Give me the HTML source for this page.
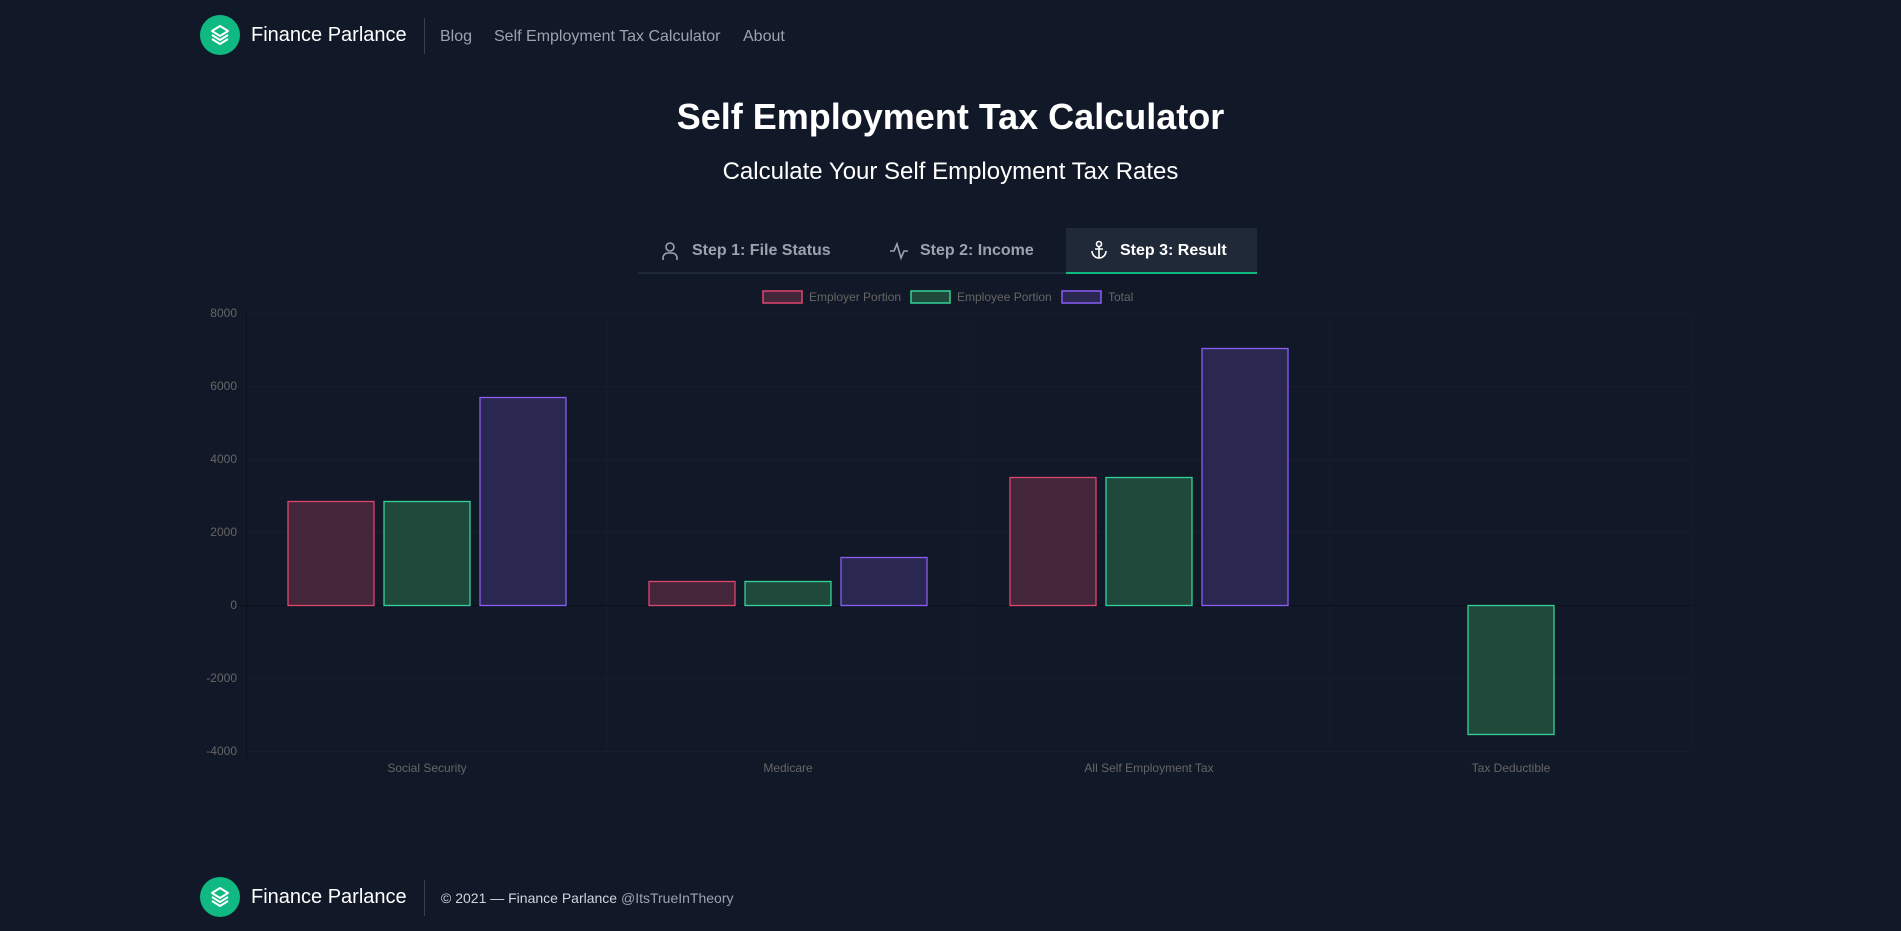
<!DOCTYPE html>
<html><head><meta charset="utf-8"><style>
html,body{margin:0;padding:0;background:#111827;width:1901px;height:931px;overflow:hidden;font-family:"Liberation Sans",sans-serif}
.a{position:absolute;white-space:nowrap}
.logo{position:absolute;width:40px;height:40px;border-radius:50%;background:#10b981}
.brand{color:#fff;font-size:20px}
.nav{color:#9ca3af;font-size:16px}
.tab{color:#9ca3af;font-size:16px;font-weight:bold}
</style></head><body>
<div class="logo" style="left:200px;top:15px"><svg width="40" height="40" viewBox="0 0 40 40" fill="none" stroke="#fff" stroke-width="2" stroke-linejoin="round"><path d="M20 11l-8 5 8 5 8-5z"/><path d="M12 20l8 5 8-5"/><path d="M12 24l8 5 8-5"/></svg></div>
<div class="a brand" style="left:251px;top:24px">Finance Parlance</div>
<div class="a" style="left:424px;top:18px;width:1px;height:36px;background:#374151"></div>
<div class="a nav" style="left:440px;top:28px">Blog</div>
<div class="a nav" style="left:494px;top:28px">Self Employment Tax Calculator</div>
<div class="a nav" style="left:743px;top:28px">About</div>

<div class="a" style="left:0;width:1901px;text-align:center;top:96px;color:#fff;font-size:36px;font-weight:bold">Self Employment Tax Calculator</div>
<div class="a" style="left:0;width:1901px;text-align:center;top:158px;color:#fff;font-size:24px">Calculate Your Self Employment Tax Rates</div>

<div class="a" style="left:638px;top:272px;width:619px;height:2px;background:#1f2937"></div>
<div class="a" style="left:1066px;top:228px;width:191px;height:44px;background:#1f2937;border-bottom:2px solid #10b981"></div>
<svg class="a" style="left:660px;top:240px" width="20" height="22" viewBox="0 0 20 22" fill="none" stroke="#9ca3af" stroke-width="1.6"><circle cx="10" cy="7" r="4"/><path d="M3 20v-2a5 5 0 0 1 5-5h4a5 5 0 0 1 5 5v2"/></svg>
<div class="a tab" style="left:692px;top:242px">Step 1: File Status</div>
<svg class="a" style="left:888px;top:240px" width="22" height="22" viewBox="0 0 22 22" fill="none" stroke="#9ca3af" stroke-width="1.6"><path d="M2 11h4l3-7 4 14 3-7h4"/></svg>
<div class="a tab" style="left:920px;top:242px">Step 2: Income</div>
<svg class="a" style="left:1088px;top:239px" width="22" height="22" viewBox="0 0 22 22" fill="none" stroke="#fff" stroke-width="1.6"><circle cx="11" cy="5" r="2.5"/><path d="M11 7.5V19M4 12a7 7 0 0 0 14 0M7 10h8"/></svg>
<div class="a tab" style="left:1120px;top:242px;color:#fff">Step 3: Result</div>

<svg class="a" style="left:0;top:0" width="1901" height="931" font-family="Liberation Sans,sans-serif" font-size="12" fill="#666">
<rect x="763" y="291" width="39" height="12" fill="#43263a" stroke="#e0456e" stroke-width="1.5"/>
<text x="809" y="301">Employer Portion</text>
<rect x="911" y="291" width="39" height="12" fill="#1f4a3b" stroke="#34d399" stroke-width="1.5"/>
<text x="957" y="301">Employee Portion</text>
<rect x="1062" y="291" width="39" height="12" fill="#2a2850" stroke="#8b5cf6" stroke-width="1.5"/>
<text x="1108" y="301">Total</text>
<g stroke="#161d2b" stroke-width="1">
<line x1="246" y1="313.5" x2="1691" y2="313.5"/><line x1="246" y1="386.5" x2="1691" y2="386.5"/><line x1="246" y1="459.5" x2="1691" y2="459.5"/><line x1="246" y1="532.5" x2="1691" y2="532.5"/><line x1="246" y1="678.5" x2="1691" y2="678.5"/><line x1="246" y1="751.5" x2="1691" y2="751.5"/>
<line x1="607" y1="313" x2="607" y2="752"/><line x1="968" y1="313" x2="968" y2="752"/><line x1="1330" y1="313" x2="1330" y2="752"/><line x1="1691" y1="313" x2="1691" y2="752"/>
</g>
<line x1="246.5" y1="313" x2="246.5" y2="758" stroke="#0b0f18"/>
<line x1="240" y1="605.5" x2="1691" y2="605.5" stroke="#0b0f18"/>
<g text-anchor="end"><text x="237" y="317">8000</text><text x="237" y="390">6000</text><text x="237" y="463">4000</text><text x="237" y="536">2000</text><text x="237" y="609">0</text><text x="237" y="682">-2000</text><text x="237" y="755">-4000</text></g>
<g text-anchor="middle"><text x="427" y="772">Social Security</text><text x="788" y="772">Medicare</text><text x="1149" y="772">All Self Employment Tax</text><text x="1511" y="772">Tax Deductible</text></g>
<g stroke-width="1.3">
<rect x="288" y="501.5" width="86" height="104" fill="#43263a" stroke="#e0456e"/>
<rect x="384" y="501.5" width="86" height="104" fill="#1f4a3b" stroke="#34d399"/>
<rect x="480" y="397.5" width="86" height="208" fill="#2a2850" stroke="#8b5cf6"/>
<rect x="649" y="581.5" width="86" height="24" fill="#43263a" stroke="#e0456e"/>
<rect x="745" y="581.5" width="86" height="24" fill="#1f4a3b" stroke="#34d399"/>
<rect x="841" y="557.5" width="86" height="48" fill="#2a2850" stroke="#8b5cf6"/>
<rect x="1010" y="477.5" width="86" height="128" fill="#43263a" stroke="#e0456e"/>
<rect x="1106" y="477.5" width="86" height="128" fill="#1f4a3b" stroke="#34d399"/>
<rect x="1202" y="348.5" width="86" height="257" fill="#2a2850" stroke="#8b5cf6"/>
<rect x="1468" y="605.5" width="86" height="129" fill="#1f4a3b" stroke="#34d399"/>
</g>
</svg>

<div class="logo" style="left:200px;top:877px"><svg width="40" height="40" viewBox="0 0 40 40" fill="none" stroke="#fff" stroke-width="2" stroke-linejoin="round"><path d="M20 11l-8 5 8 5 8-5z"/><path d="M12 20l8 5 8-5"/><path d="M12 24l8 5 8-5"/></svg></div>
<div class="a brand" style="left:251px;top:886px">Finance Parlance</div>
<div class="a" style="left:424px;top:880px;width:1px;height:36px;background:#374151"></div>
<div class="a" style="left:441px;top:890px;font-size:14px;color:#d1d5db">© 2021 — Finance Parlance <span style="color:#9ca3af">@ItsTrueInTheory</span></div>
</body></html>
